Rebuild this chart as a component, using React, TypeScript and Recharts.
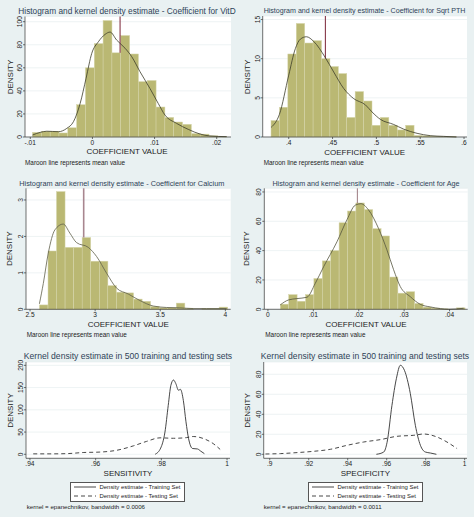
import {
  Bar,
  CartesianGrid,
  ComposedChart,
  Legend,
  Line,
  ReferenceLine,
  XAxis,
  YAxis,
} from 'recharts';

// Histogram bins: bin centres and bar heights
const vitdBinX = [-0.00893, -0.00751, -0.00609, -0.00467, -0.00325, -0.00183, -0.00041, 0.00101, 0.00243, 0.00385, 0.00527, 0.00669, 0.00811, 0.00953, 0.01095, 0.01237, 0.01379, 0.01521, 0.01663, 0.01805, 0.01947, 0.02089];
const vitdBinY = [4, 5, 5, 3.5, 8, 28, 60, 81, 101, 73, 88, 72, 48, 49, 26, 17, 13, 11, 3, 2.5, 1, 0.5];
const vitdKdeX = [-0.00964, -0.00841, -0.00734, -0.00546, -0.00412, -0.00305, -0.00198, -0.00102, -0.00011, 0.00096, 0.00204, 0.00284, 0.00391, 0.00525, 0.00632, 0.00766, 0.00927, 0.0106, 0.01168, 0.01355, 0.01543, 0.0173, 0.0189, 0.0216];
const vitdKdeY = [1.7, 4, 5, 4.6, 7.5, 13.3, 29, 51, 72.5, 82.6, 89, 91, 84, 77, 69.7, 56.6, 42, 29, 19, 11.8, 6.6, 2.6, 0.9, 0.3];

const pthBinX = [0.3846, 0.3942, 0.4038, 0.4134, 0.423, 0.4326, 0.4422, 0.4518, 0.4614, 0.471, 0.4806, 0.4902, 0.4998, 0.5094, 0.519, 0.5286, 0.5382, 0.5478, 0.5574, 0.567, 0.5766, 0.5862];
const pthBinY = [2.1, 3.8, 10.6, 14.5, 12, 12.3, 10, 9, 8.1, 2.5, 5.8, 4.6, 1.5, 2.5, 1.5, 0.9, 1.5, 0.2, 0.15, 0.1, 0.05, 0.05];
const pthKdeX = [0.38, 0.3894, 0.4, 0.4076, 0.4133, 0.4202, 0.4285, 0.4414, 0.4513, 0.4627, 0.4741, 0.4875, 0.495, 0.5046, 0.5198, 0.5312, 0.5464, 0.5616, 0.5768, 0.5913];
const pthKdeY = [1.23, 2.9, 7.9, 11.3, 12.5, 12.8, 12.2, 10.2, 8.3, 6.2, 4.9, 4.1, 3.2, 2.25, 1.6, 1, 0.47, 0.17, 0.08, 0];

const calciumBinX = [2.605, 2.671, 2.736, 2.802, 2.868, 2.933, 2.999, 3.065, 3.13, 3.196, 3.262, 3.328, 3.393, 3.459, 3.525, 3.59, 3.656, 3.722, 3.787, 3.853, 3.919, 3.985];
const calciumBinY = [0.12, 1.6, 3.23, 1.7, 1.7, 1.97, 1.32, 1.32, 0.65, 0.47, 0.45, 0.28, 0.22, 0.08, 0.04, 0.04, 0.17, 0.03, 0, 0.02, 0.02, 0.06];
const calciumKdeX = [2.572, 2.602, 2.64, 2.691, 2.755, 2.806, 2.857, 2.947, 3.011, 3.088, 3.165, 3.254, 3.344, 3.446, 3.548, 3.651, 3.753, 3.855, 4.009];
const calciumKdeY = [0.15, 0.71, 1.54, 2.18, 2.34, 2.09, 1.83, 1.7, 1.45, 0.99, 0.58, 0.42, 0.24, 0.09, 0.05, 0.04, 0.02, 0.02, 0.02];

const ageBinX = [0.00365, 0.0055, 0.00735, 0.0092, 0.01105, 0.0129, 0.01475, 0.0166, 0.01845, 0.0203, 0.02215, 0.024, 0.02585, 0.0277, 0.02955, 0.0314, 0.03325, 0.0351, 0.03695, 0.0388, 0.04065, 0.0425];
const ageBinY = [3.5, 10, 5.5, 10, 21, 33, 40, 59, 67, 72.5, 68, 55, 50, 22, 11, 12, 4, 1.5, 0.8, 0.3, 0, 1];
const ageKdeX = [0.00272, 0.00455, 0.00639, 0.00859, 0.01043, 0.01226, 0.0152, 0.0174, 0.01923, 0.02048, 0.02217, 0.02438, 0.02621, 0.02768, 0.02915, 0.03135, 0.03355, 0.03576, 0.03796, 0.03979, 0.0431];
const ageKdeY = [3, 6.4, 7.3, 8.2, 17.7, 29, 46, 61, 71, 72, 67.7, 55, 40.5, 27, 15.5, 8.6, 3.4, 1.6, 0.5, 0, 0.7];

const sensTrainX = [0.9781, 0.9798, 0.9811, 0.9821, 0.9829, 0.9837, 0.9844, 0.9852, 0.9858, 0.9867, 0.9875, 0.9883, 0.9895, 0.991, 0.992, 0.9931];
const sensTrainY = [0, 14, 50, 110, 155, 167, 159, 144, 146, 121, 73, 35, 13, 12, 7, 1.5];
const sensTestX = [0.941, 0.9461, 0.9512, 0.9562, 0.9613, 0.9664, 0.9715, 0.9755, 0.9796, 0.9837, 0.9877, 0.9897, 0.9933, 0.9958, 0.9979];
const sensTestY = [1, 1, 1.5, 4, 5, 9, 19, 29, 37, 36, 37.5, 40, 34, 24, 11];

const specTrainX = [0.9547, 0.9585, 0.9602, 0.9627, 0.965, 0.967, 0.9691, 0.9721, 0.9747, 0.9773, 0.9798, 0.9824, 0.9855];
const specTrainY = [0, 2.3, 12, 49, 76, 89, 84, 61, 29, 9, 2.3, 1.3, 0];
const specTestX = [0.8978, 0.9055, 0.914, 0.9226, 0.9311, 0.9397, 0.9482, 0.9568, 0.9653, 0.9739, 0.979, 0.9858, 0.9909, 0.9961];
const specTestY = [0.3, 0.7, 1.7, 3, 5, 9, 12.3, 14.7, 18, 19, 20.3, 17.3, 12.3, 5.7];

const FONT = '"Liberation Sans", Arial, sans-serif';
const PANEL_W = 237;
const PANEL_H = 175;
const PAGE_BG = '#e9f1f2';

const zip = (xs: number[], ys: number[]) => xs.map((x, i) => ({ x, y: ys[i] }));
const formatStata = (v: number) => String(v).replace('0.', '.');

function RotatedTick({ x, y, payload }: any) {
  return (
    <text
      x={x}
      y={y}
      transform={`rotate(-90 ${x} ${y})`}
      textAnchor="middle"
      fontSize={6.6}
      fontFamily={FONT}
      fill="#222"
    >
      {payload.value}
    </text>
  );
}

function LegendBox({ payload }: any) {
  return (
    <div
      style={{
        width: 113,
        height: 18,
        border: '1px solid #555',
        background: '#ffffff',
        fontFamily: FONT,
        fontSize: 5.95,
        color: '#222',
        boxSizing: 'content-box',
      }}
    >
      {(payload || []).map((item: any) => (
        <div key={item.value} style={{ display: 'flex', alignItems: 'center', height: 9 }}>
          <svg width={22} height={4} style={{ marginLeft: 3, marginRight: 3.5, flex: 'none' }}>
            <line
              x1={0}
              y1={2}
              x2={22}
              y2={2}
              stroke="#333"
              strokeWidth={0.9}
              strokeDasharray={item.payload?.strokeDasharray}
            />
          </svg>
          <span style={{ whiteSpace: 'nowrap' }}>{item.value}</span>
        </div>
      ))}
    </div>
  );
}

// bar drawn centred on its bin at the full bin width
function BinBar({ x, y, width, height, binWidth }: any) {
  return (
    <rect
      x={x + width / 2 - binWidth / 2}
      y={y}
      width={binWidth}
      height={height}
      fill="#bab873"
      stroke="#d6d5ab"
      strokeWidth={0.5}
    />
  );
}

type PanelProps = {
  left: number;
  top: number;
  plot: { l: number; r: number; t: number; b: number };
  xDomain: [number, number];
  yDomain: [number, number];
  xTicks: number[];
  yTicks: number[];
  title: string;
  titleSize: number;
  titleX: number;
  titleY: number;
  xLabel: string;
  xLabelX: number;
  xLabelY: number;
  yLabelY: number;
  note: string;
  noteSize: number;
  noteX: number;
  noteY: number;
  bins?: { x: number; y: number }[];
  barSize?: number;
  kde?: { x: number; y: number }[];
  kdeColor?: string;
  mean?: { x: number; y: number };
  meanColor?: string;
  meanWidth?: number;
  train?: { x: number; y: number }[];
  test?: { x: number; y: number }[];
  legendLeft?: number;
  legendTop?: number;
};

function Panel(p: PanelProps) {
  return (
    <div style={{ position: 'absolute', left: p.left, top: p.top, width: PANEL_W, height: PANEL_H }}>
      <ComposedChart
        width={PANEL_W}
        height={PANEL_H}
        data={p.bins || []}
        margin={{ top: p.plot.t, right: PANEL_W - p.plot.r, bottom: 0, left: 0 }}
      >
        <CartesianGrid horizontal vertical={false} fill="#ffffff" stroke="#e6eeef" strokeWidth={0.7} />
        <XAxis
          dataKey="x"
          type="number"
          domain={p.xDomain}
          ticks={p.xTicks}
          interval={0}
          height={PANEL_H - p.plot.b}
          tickFormatter={formatStata}
          tick={{ fontSize: 6.6, fontFamily: FONT, fill: '#222' }}
          tickSize={2}
          tickMargin={1}
          stroke="#333"
          strokeWidth={0.7}
        />
        <YAxis
          type="number"
          domain={p.yDomain}
          ticks={p.yTicks}
          interval={0}
          width={p.plot.l}
          tick={<RotatedTick />}
          tickSize={2}
          tickMargin={1}
          stroke="#333"
          strokeWidth={0.7}
        />
        {p.mean && (
          <ReferenceLine
            segment={[
              { x: p.mean.x, y: p.mean.y },
              { x: p.mean.x, y: p.yDomain[1] },
            ]}
            stroke={p.meanColor || '#7a2336'}
            strokeWidth={p.meanWidth || 1}
          />
        )}
        {p.bins && (
          <Bar
            dataKey="y"
            shape={<BinBar binWidth={p.barSize} />}
            isAnimationActive={false}
            legendType="none"
          />
        )}
        {p.kde && (
          <Line
            data={p.kde}
            dataKey="y"
            type="monotone"
            stroke={p.kdeColor || '#3c3c2a'}
            strokeWidth={0.8}
            dot={false}
            isAnimationActive={false}
            legendType="none"
          />
        )}
        {p.train && (
          <Line
            data={p.train}
            dataKey="y"
            name="Density estimate - Training Set"
            type="monotone"
            stroke="#333"
            strokeWidth={0.9}
            dot={false}
            isAnimationActive={false}
          />
        )}
        {p.test && (
          <Line
            data={p.test}
            dataKey="y"
            name="Density estimate - Testing Set"
            type="monotone"
            stroke="#333"
            strokeWidth={0.9}
            strokeDasharray="4 3"
            dot={false}
            isAnimationActive={false}
          />
        )}
        {p.train && (
          <Legend
            layout="horizontal"
            verticalAlign="middle"
            itemSorter={null}
            content={<LegendBox />}
            wrapperStyle={{ left: p.legendLeft, top: p.legendTop, width: 115 }}
          />
        )}
        <text x={p.titleX} y={p.titleY} textAnchor="middle" dominantBaseline="central" fontSize={p.titleSize} fontFamily={FONT} fill="#2f4358">
          {p.title}
        </text>
        <text x={p.xLabelX} y={p.xLabelY} textAnchor="middle" dominantBaseline="central" fontSize={8} fontFamily={FONT} fill="#222">
          {p.xLabel}
        </text>
        <text
          x={10}
          y={p.yLabelY}
          transform={`rotate(-90 10 ${p.yLabelY})`}
          textAnchor="middle"
          dominantBaseline="central"
          fontSize={8}
          fontFamily={FONT}
          fill="#222"
        >
          DENSITY
        </text>
        <text x={p.noteX} y={p.noteY} dominantBaseline="central" fontSize={p.noteSize} fontFamily={FONT} fill="#222">
          {p.note}
        </text>
      </ComposedChart>
    </div>
  );
}

export default function App() {
  const note = 'Maroon line represents mean value';
  return (
    <div style={{ position: 'absolute', left: 0, top: 0, width: 474, height: 517, background: PAGE_BG, overflow: 'hidden' }}>
      <Panel
        left={0}
        top={0}
        plot={{ l: 25, r: 231, t: 16.5, b: 137 }}
        xDomain={[-0.01085, 0.0223]}
        yDomain={[0, 104.5]}
        xTicks={[-0.01, 0, 0.01, 0.02]}
        yTicks={[0, 20, 40, 60, 80, 100]}
        title="Histogram and kernel density estimate - Coefficient for VitD"
        titleSize={8.3}
        titleX={127}
        titleY={10.7}
        xLabel="COEFFICIENT VALUE"
        xLabelX={127}
        xLabelY={151.7}
        yLabelY={77}
        note={note}
        noteSize={6.4}
        noteX={25}
        noteY={162}
        bins={zip(vitdBinX, vitdBinY)}
        barSize={8.87}
        kde={zip(vitdKdeX, vitdKdeY)}
        mean={{ x: 0.00445, y: 73 }}
      />
      <Panel
        left={237}
        top={0}
        plot={{ l: 25.7, r: 230, t: 16, b: 137 }}
        xDomain={[0.3703, 0.6034]}
        yDomain={[0, 15.45]}
        xTicks={[0.4, 0.45, 0.5, 0.55, 0.6]}
        yTicks={[0, 5, 10, 15]}
        title="Histogram and kernel density estimate - Coefficient for Sqrt PTH"
        titleSize={7.1}
        titleX={127.5}
        titleY={10.5}
        xLabel="COEFFICIENT VALUE"
        xLabelX={127.7}
        xLabelY={152}
        yLabelY={77}
        note={note}
        noteSize={6.4}
        noteX={26.7}
        noteY={162}
        bins={zip(pthBinX, pthBinY)}
        barSize={8.43}
        kde={zip(pthKdeX, pthKdeY)}
        mean={{ x: 0.4418, y: 10 }}
      />
      <Panel
        left={0}
        top={170}
        plot={{ l: 26, r: 230.7, t: 18.3, b: 139.3 }}
        xDomain={[2.469, 4.041]}
        yDomain={[0, 3.32]}
        xTicks={[2.5, 3, 3.5, 4]}
        yTicks={[0, 1, 2, 3]}
        title="Histogram and kernel density estimate - Coefficient for Calcium"
        titleSize={7.35}
        titleX={121.8}
        titleY={13}
        xLabel="COEFFICIENT VALUE"
        xLabelX={128.3}
        xLabelY={154.7}
        yLabelY={78.7}
        note={note}
        noteSize={6.4}
        noteX={26.7}
        noteY={164.3}
        bins={zip(calciumBinX, calciumBinY)}
        barSize={8.56}
        kde={zip(calciumKdeX, calciumKdeY)}
        kdeColor="#5f5f4a"
        mean={{ x: 2.912, y: 1.97 }}
        meanColor="#a8868f"
        meanWidth={1.6}
      />
      <Panel
        left={237}
        top={170}
        plot={{ l: 27.3, r: 230.7, t: 18.3, b: 139.3 }}
        xDomain={[-0.0008, 0.044]}
        yDomain={[0, 82.5]}
        xTicks={[0, 0.01, 0.02, 0.03, 0.04]}
        yTicks={[0, 20, 40, 60, 80]}
        title="Histogram and kernel density estimate - Coefficient for Age"
        titleSize={7.2}
        titleX={129}
        titleY={13}
        xLabel="COEFFICIENT VALUE"
        xLabelX={129}
        xLabelY={154.7}
        yLabelY={78.7}
        note={note}
        noteSize={6.4}
        noteX={28.3}
        noteY={164.3}
        bins={zip(ageBinX, ageBinY)}
        barSize={8.4}
        kde={zip(ageKdeX, ageKdeY)}
        kdeColor="#55553f"
        mean={{ x: 0.0197, y: 72.3 }}
        meanColor="#9c7a80"
        meanWidth={1}
      />
      <Panel
        left={0}
        top={342}
        plot={{ l: 26, r: 230, t: 20, b: 116.3 }}
        xDomain={[0.9388, 1.0009]}
        yDomain={[-9, 207.5]}
        xTicks={[0.94, 0.96, 0.98, 1]}
        yTicks={[0, 50, 100, 150, 200]}
        title="Kernel density estimate in 500 training and testing sets"
        titleSize={8.6}
        titleX={128}
        titleY={14}
        xLabel="SENSITIVITY"
        xLabelX={128}
        xLabelY={131}
        yLabelY={68.5}
        note="kernel = epanechnikov, bandwidth = 0.0006"
        noteSize={6.15}
        noteX={26.7}
        noteY={164.7}
        train={zip(sensTrainX, sensTrainY)}
        test={zip(sensTestX, sensTestY)}
        legendLeft={70}
        legendTop={139.7}
      />
      <Panel
        left={237}
        top={342}
        plot={{ l: 26.7, r: 230, t: 20, b: 116.3 }}
        xDomain={[0.8969, 1.0012]}
        yDomain={[-4, 92.3]}
        xTicks={[0.9, 0.92, 0.94, 0.96, 0.98, 1]}
        yTicks={[0, 20, 40, 60, 80]}
        title="Kernel density estimate in 500 training and testing sets"
        titleSize={8.6}
        titleX={128}
        titleY={14}
        xLabel="SPECIFICITY"
        xLabelX={128.3}
        xLabelY={131}
        yLabelY={68.5}
        note="kernel = epanechnikov, bandwidth = 0.0011"
        noteSize={6.15}
        noteX={26.7}
        noteY={164.7}
        train={zip(specTrainX, specTrainY)}
        test={zip(specTestX, specTestY)}
        legendLeft={71}
        legendTop={139.7}
      />
    </div>
  );
}
